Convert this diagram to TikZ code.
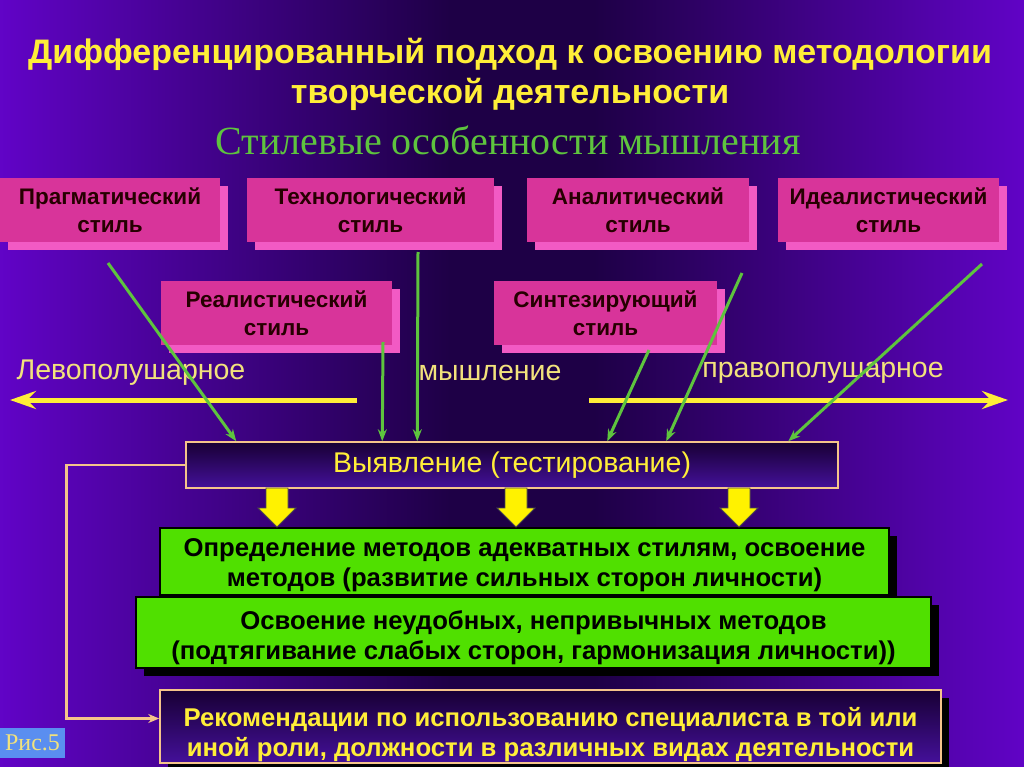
\documentclass[tikz,border=0pt]{standalone}
\usepackage{fontspec}
\setmainfont{Liberation Sans}
\newfontfamily\serifrm{Liberation Serif}
\usetikzlibrary{calc}
\usetikzlibrary{positioning}
\usetikzlibrary{shadows}
\usetikzlibrary{arrows.meta}
\definecolor{bgViolet}{HTML}{6A04D8}
\definecolor{bgDark}{HTML}{1E0046}
\definecolor{pinkFill}{HTML}{D8349A}
\definecolor{pinkShade}{HTML}{F25AC4}
\definecolor{lineGreen}{HTML}{5EC43E}
\definecolor{boxGreen}{HTML}{50E000}
\definecolor{titleYellow}{HTML}{FFEE38}
\definecolor{labelYellow}{HTML}{F2E27C}
\definecolor{peach}{HTML}{F5C48A}
\definecolor{boxTop}{HTML}{180034}
\definecolor{boxBottom}{HTML}{44109A}
\definecolor{figBlue}{HTML}{5A8EF0}
\pgfdeclarehorizontalshading{bgshade}{100bp}{color(0bp)=(bgViolet); color(22bp)=(bgViolet); color(47bp)=(bgDark); color(54bp)=(bgDark); color(78bp)=(bgViolet); color(100bp)=(bgViolet)}

\begin{document}
\begin{tikzpicture}[x=1pt, y=-1pt, >=Stealth]
	\tikzset{stylebox/.style={fill=pinkFill, minimum height=64pt, align=center,
			font=\bfseries\fontsize{22.5}{28}\selectfont, text=black!85!red,
			drop shadow={shadow xshift=8pt, shadow yshift=-8pt, opacity=1, fill=pinkShade}},
		methbox/.style={fill=boxGreen, draw=black, line width=1.5pt, align=center,
			font=\bfseries\fontsize{25.7}{30}\selectfont,
			drop shadow={shadow xshift=8pt, shadow yshift=-8pt, opacity=1, fill=black}},
		darkbox/.style={top color=boxTop, bottom color=boxBottom, draw=peach,
			line width=1.5pt, align=center},
		hemi/.style={text=labelYellow, font=\fontsize{28.5}{32}\selectfont},
		glink/.style={->, lineGreen, line width=3pt, >={Stealth[length=12pt,width=9pt]}},
		yarrow/.style={->, titleYellow, line width=5pt, >={Stealth[length=26pt,width=18pt,inset=9pt]}},
		blockarr/.style={fill=yellow, draw=black!70, line width=0.8pt}}
	\useasboundingbox (0,0) rectangle (1024,767);
	\shade[shading=bgshade] (0,0) rectangle (1024,767);
	% title
	\node[align=center, text=titleYellow, font=\bfseries\fontsize{34}{40}\selectfont] (title) at (510,74)
		{Дифференцированный подход к освоению методологии\\творческой деятельности};
	\node[text=lineGreen, font=\serifrm\fontsize{40}{44}\selectfont] (sub) at (508,140)
		{Стилевые особенности мышления};
	% styles
	\node[stylebox, minimum width=220pt] (prag) at (110,210) {Прагматический\\стиль};
	\node[stylebox, minimum width=247pt] (tech) at (370.5,210) {Технологический\\стиль};
	\node[stylebox, minimum width=222pt] (anal) at (638,210) {Аналитический\\стиль};
	\node[stylebox, minimum width=221pt] (ideal) at (888.5,210) {Идеалистический\\стиль};
	\node[stylebox, minimum width=231pt] (real) at (276.5,313) {Реалистический\\стиль};
	\node[stylebox, minimum width=223pt] (synth) at (605.5,313) {Синтезирующий\\стиль};
	% hemispheres
	\node[hemi] (left) at (131,373) {Левополушарное};
	\node[hemi] (mid) at (490,373) {мышление};
	\node[hemi] (right) at (823,373) {правополушарное};
	\coordinate (lfrom) at (357,400);
	\coordinate (lto) at (10,400);
	\coordinate (rfrom) at (589,400);
	\coordinate (rto) at (1008,400);
	\draw[yarrow] (lfrom) -- (lto);
	\draw[yarrow] (rfrom) -- (rto);
	% testing and methods
	\node[darkbox, minimum width=652pt, minimum height=46pt, text=titleYellow,
		font=\fontsize{28.5}{32}\selectfont] (test) at (512,465) {Выявление (тестирование)};
	\node[methbox, text height=51pt, text depth=1pt, minimum width=729pt, minimum height=67pt] (meth) at (524.5,561.5)
		{Определение методов адекватных стилям, освоение\\методов (развитие сильных сторон личности)};
	\node[methbox, text height=54pt, text depth=0pt, minimum width=795pt, minimum height=71pt] (weak) at (533.5,632.5)
		{Освоение неудобных, непривычных методов\\(подтягивание слабых сторон, гармонизация личности))};
	\node[darkbox, text height=60pt, text depth=0pt, minimum width=781pt, minimum height=73pt, text=titleYellow,
		font=\bfseries\fontsize{25.7}{30}\selectfont,
		drop shadow={shadow xshift=8pt, shadow yshift=-8pt, opacity=1, fill=black}] (recom) at (550.5,726.5)
		{Рекомендации по использованию специалиста в той или\\иной роли, должности в различных видах деятельности};
	\node[fill=figBlue, text=labelYellow, font=\serifrm\fontsize{24}{26}\selectfont,
		minimum width=65pt, minimum height=30pt, inner sep=0pt] (fig) at (32.5,743) {Рис.5};
	% green connectors
	\coordinate (s1) at (108,263);
	\coordinate (s2) at (383,342);
	\coordinate (s3) at (418,252);
	\coordinate (s4) at (649,350);
	\coordinate (s5) at (742,273);
	\coordinate (s6) at (982,264);
	\draw[glink] (s1) -- ($(test.north west)+(51,0)$);
	\draw[glink] (s2) -- ($(test.north west)+(197,0)$);
	\draw[glink] (s3) -- ($(test.north west)+(232,0)$);
	\draw[glink] (s4) -- ($(test.north west)+(422,0)$);
	\draw[glink] (s5) -- ($(test.north west)+(481,0)$);
	\draw[glink] (s6) -- ($(test.north west)+(603,0)$);
	% block arrows
	\foreach \x in {277,516,739}
		\filldraw[blockarr] (\x-11,488) -- (\x+11,488) -- (\x+11,508) -- (\x+19,508)
			-- (\x,527) -- (\x-19,508) -- (\x-11,508) -- cycle;
	% feedback
	\draw[->, peach, line width=2.5pt, >={Stealth[length=11pt,width=9pt]}]
		(test.west) -- ++(-119,0) |- ($(recom.west)+(0,-8)$);
\end{tikzpicture}
\end{document}
